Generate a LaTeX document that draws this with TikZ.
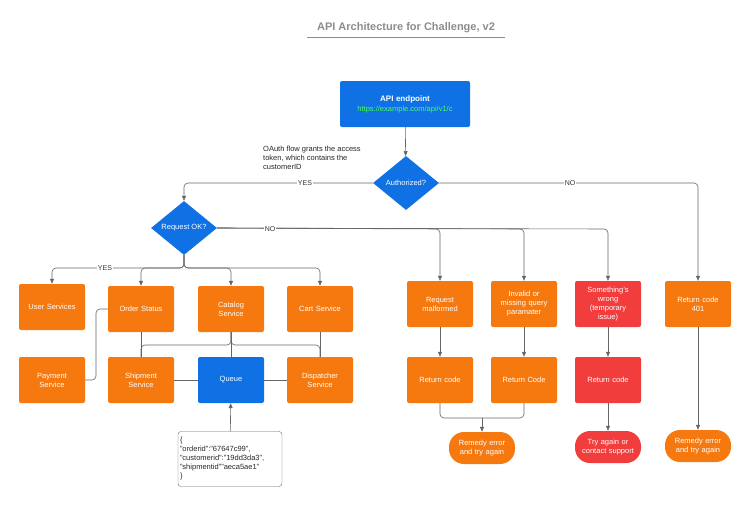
\documentclass[tikz,border=0pt]{standalone}
\usepackage{fontspec}
\setmainfont{Liberation Sans}
\usetikzlibrary{shapes.geometric,arrows.meta}
\definecolor{org}{HTML}{F6790F}
\definecolor{blu}{HTML}{1071E5}
\definecolor{rd}{HTML}{F23D3D}
\definecolor{ln}{HTML}{666666}
\begin{document}
\begin{tikzpicture}[x=1pt,y=-1pt,
 box/.style={rectangle,rounded corners=2pt,minimum width=66pt,minimum height=46pt,text width=60pt,align=center,text=white,font=\fontsize{7.5}{9}\selectfont,inner sep=1pt},
 ob/.style={box,fill=org},
 rb/.style={box,fill=rd},
 pill/.style={rounded corners=15pt,minimum width=66pt,minimum height=32pt,text width=62pt,align=center,text=white,font=\fontsize{7.5}{9}\selectfont,inner sep=1pt},
 dia/.style={diamond,fill=blu,text=white,font=\fontsize{7.5}{9}\selectfont,minimum width=66pt,minimum height=54pt,inner sep=0pt,aspect=1.2},
 c/.style={draw=ln,line width=0.6pt,rounded corners=4pt},
 a/.style={c,-{Triangle[length=5pt,width=4pt]}},
 lab/.style={fill=white,inner sep=0.5pt,font=\fontsize{7}{8}\selectfont,text=black!80}]
\useasboundingbox (0,0) rectangle (750,506);
\node[font=\bfseries\fontsize{11}{13}\selectfont,text=black!45] (title) at (406,28) {API Architecture for Challenge, v2};
\draw[black!45,line width=0.6pt] (307,37) -- (505,37);
\node[box,fill=blu,minimum width=130pt,text width=124pt] (api) at (405,104) {\textbf{\fontsize{8}{10}\selectfont API endpoint}\\[1pt]{\color{green!70!white}https://example.com/api/v1/c}};
\node[dia] (auth) at (406,183) {Authorized?};
\node[dia] (req) at (184,228) {Request OK?};
\node[align=left,anchor=north west,font=\fontsize{7.5}{9}\selectfont,text=black!85,inner sep=0pt] (oauth) at (263,146) {OAuth flow grants the access\\token, which contains the\\customerID};
\node[ob] (user) at (52,307) {User Services};
\node[ob] (order) at (141,309) {Order Status};
\node[ob] (cat) at (231,309) {Catalog\\Service};
\node[ob] (cart) at (320,309) {Cart Service};
\node[ob] (pay) at (52,380) {Payment\\Service};
\node[ob] (ship) at (141,380) {Shipment\\Service};
\node[box,fill=blu] (queue) at (231,380) {Queue};
\node[ob] (disp) at (320,380) {Dispatcher\\Service};
\node[draw=ln,rounded corners=3pt,minimum width=104pt,minimum height=55pt,align=left,font=\fontsize{7.5}{9}\selectfont,text=black!85,inner sep=2pt,text width=100pt] (json) at (230,459) {\{\\"orderid":"67647c99",\\"customerid":"19dd3da3",\\"shipmentid""aeca5ae1"\\\}};
\node[ob] (mal) at (440,304) {Request\\malformed};
\node[ob] (inv) at (524,304) {Invalid or\\missing query\\paramater};
\node[rb] (wrong) at (608,304) {Something's\\wrong\\(temporary\\issue)};
\node[ob] (r401) at (698,304) {Return code\\401};
\node[ob] (rc1) at (440,380) {Return code};
\node[ob] (rc2) at (524,380) {Return Code};
\node[rb] (rc3) at (608,380) {Return code};
\node[pill,fill=org] (rem1) at (482,448) {Remedy error\\and try again};
\node[pill,fill=rd] (try) at (608,447) {Try again or\\contact support};
\node[pill,fill=org] (rem2) at (698,446) {Remedy error\\and try again};
\coordinate (j1) at (482,418);
% connectors
\draw[a] (api) -- (auth);
\draw[a] (auth.west) -- (184,183) -- (req.north);
\node[lab] at (305,183) {YES};
\draw[a] (auth.east) -| (r401.north);
\node[lab] at (570,183) {NO};
\draw[a] (req.east) -- (608,229) -- (wrong.north);
\draw[a] (req.east) -- (440,229) -- (mal.north);
\draw[a] (req.east) -- (524,229) -- (inv.north);
\node[lab] at (270,229) {NO};
\draw[a] (req.south) -- (184,268) -- (52,268) -- (user.north);
\draw[a] (req.south) -- (184,268) -- (141,268) -- (order.north);
\draw[a] (req.south) -- (184,268) -- (231,268) -- (cat.north);
\draw[a] (req.south) -- (184,268) -- (320,268) -- (cart.north);
\node[lab] at (105,268) {YES};
\draw[c] (pay.east) -- (96,380) -- (96,309) -- (order.west);
\draw[c] (order) -- (ship);
\draw[c] (cat) -- (queue);
\draw[c] (cart) -- (disp);
\draw[c] (cat.south) -- (231,345) -- (141,345) -- (ship.north);
\draw[c] (cat.south) -- (231,345) -- (320,345) -- (disp.north);
\draw[c] (ship) -- (queue);
\draw[c] (queue) -- (disp);
\draw[a] (json) -- (queue);
\draw[a] (mal) -- (rc1);
\draw[a] (inv) -- (rc2);
\draw[a] (wrong) -- (rc3);
\draw[c] (rc1.south) -- (440,418) -- (j1);
\draw[c] (rc2.south) -- (524,418) -- (j1);
\draw[a] (j1) -- (rem1);
\draw[a] (rc3) -- (try);
\draw[a] (r401) -- (rem2);
\end{tikzpicture}
\end{document}
